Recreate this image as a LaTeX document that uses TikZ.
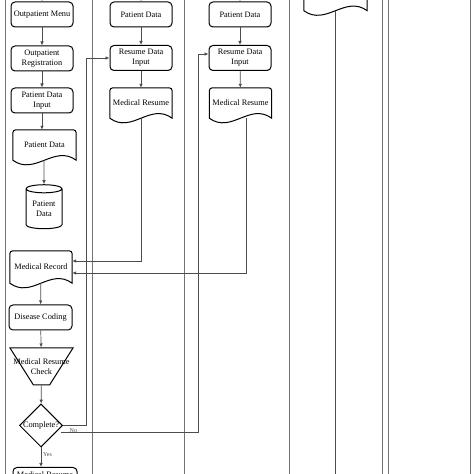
\documentclass[tikz,border=0pt]{standalone}
\usepackage{fontspec}
\setmainfont{Liberation Serif}
\usetikzlibrary{shapes.geometric,arrows.meta}

\newcommand\lbl{\fontsize{8.3}{9.7}\selectfont}
\newcommand\docshape[1]{%
  \draw[line width=1pt] (#1.south west) [rounded corners=3pt] -- (#1.north west) -- (#1.north east)
    [sharp corners] -- (#1.south east)
    .. controls +(-22,16) and +(22,-16) .. (#1.south west) -- cycle;}

\begin{document}
\begin{tikzpicture}[x=1pt,y=1pt,
    proc/.style={draw, line width=1pt, rounded corners=4pt, minimum width=62pt,
        minimum height=25pt, inner sep=1pt, align=center, font=\lbl},
    doc/.style={minimum width=62pt, minimum height=30pt, inner sep=1pt, align=center, font=\lbl},
    lane/.style={black!55, line width=0.7pt},
    conn/.style={black!70, line width=0.7pt},
    arr/.style={conn, -{Latex[length=4pt,width=3.5pt]}}]
    \useasboundingbox (0,0) rectangle (474,474);
    \clip (0,0) rectangle (474,474);

    % swimlanes
    \foreach \x in {5,92,184,289,382,388,470}
    {
        \draw[lane] (\x,-5) -- (\x,480);
    }

    % first lane
    \node[proc] (menu) at (42,459.5) {Outpatient Menu};
    \node[proc] (reg) at (42,415.5) {Outpatient\\Registration};
    \node[proc] (pdin) at (42,373.5) {Patient Data\\Input};
    \node[doc, minimum width=63pt] (pdoc) at (44.5,329) {Patient Data};
    \node[cylinder, shape border rotate=90, draw, line width=1pt, aspect=0.35,
        minimum width=36pt, minimum height=44pt, inner sep=0pt, align=center, font=\lbl]
        (pdb) at (44,265) {Patient\\Data};
    \node[doc, minimum height=32pt] (mrec) at (41,207) {Medical Record};
    \node[proc, minimum width=63pt] (code) at (40.5,156.5) {Disease Coding};
    \node[trapezium, trapezium angle=70, shape border rotate=180, trapezium stretches=true,
        draw, line width=1pt, minimum width=63pt, minimum height=37pt, inner sep=2pt,
        label={[align=center, font=\lbl]center:Medical Resume\\Check}] (check) at (41.5,107.5) {\strut};
    \node[diamond, draw, line width=1pt, minimum width=43pt, minimum height=43pt, inner sep=2pt,
        label={[font=\lbl]center:Complete?}] (done) at (41,48.5) {\strut};
    \node[proc, minimum width=64pt, minimum height=14pt, anchor=north] (mres) at (45,7) {Medical Resume};

    % second lane
    \node[proc] (pd2) at (141,459.5) {Patient Data};
    \node[proc] (rin2) at (141,416) {Resume Data\\Input};
    \node[doc] (mr2) at (141,371) {Medical Resume};

    % third lane
    \node[proc] (pd3) at (240,459.5) {Patient Data};
    \node[proc] (rin3) at (240,416) {Resume Data\\Input};
    \node[doc] (mr3) at (240.5,371) {Medical Resume};

    % fourth lane
    \node[doc, minimum width=63pt] (mr4) at (335.5,478.5) {};
    \coordinate (end4) at (335.5,-5);

    \foreach \n in {pdoc,mrec,mr2,mr3,mr4}
    {
        \docshape{\n}
    }

    % flow
    \foreach \n in {menu,pd2,pd3}
    {
        \draw[arr] (\n.north) ++(0,12) -- (\n.north);
    }
    \draw[arr] (menu) -- (reg);
    \draw[arr] (reg) -- (pdin);
    \draw[arr] (pdin) -- (pdin |- pdoc.north);
    \draw[arr] (pdb |- pdoc.south) -- (pdb);
    \draw[arr] (mrec) -- (code);
    \draw[arr] (code) -- (check);
    \draw[arr] (check) -- (done);
    \draw[arr] (done.south) -- node[pos=0.35, anchor=west, xshift=-1.5pt, font=\fontsize{6}{7}\selectfont] {Yes}
        (done.south |- mres.north);
    \draw[arr] (pd2) -- (rin2);
    \draw[arr] (rin2) -- (mr2);
    \draw[arr] (pd3) -- (rin3);
    \draw[arr] (rin3) -- (mr3);
    \draw[arr] (mr2.south) |- ([yshift=6pt]mrec.east);
    \draw[arr] ([xshift=6pt]mr3.south) |- ([yshift=-6pt]mrec.east);
    \draw[arr] (done.east) -- node[pos=0.45, anchor=north, yshift=1pt, font=\fontsize{6}{7}\selectfont] {No}
        ++(23,0) |- (rin2.west);
    \draw[arr] ([shift={(-2,-6.5)}]done.east) -- ++(137,0) |- ([yshift=4pt]rin3.west);
    \draw[conn] (mr4.south) -- (end4);

\end{tikzpicture}
\end{document}
